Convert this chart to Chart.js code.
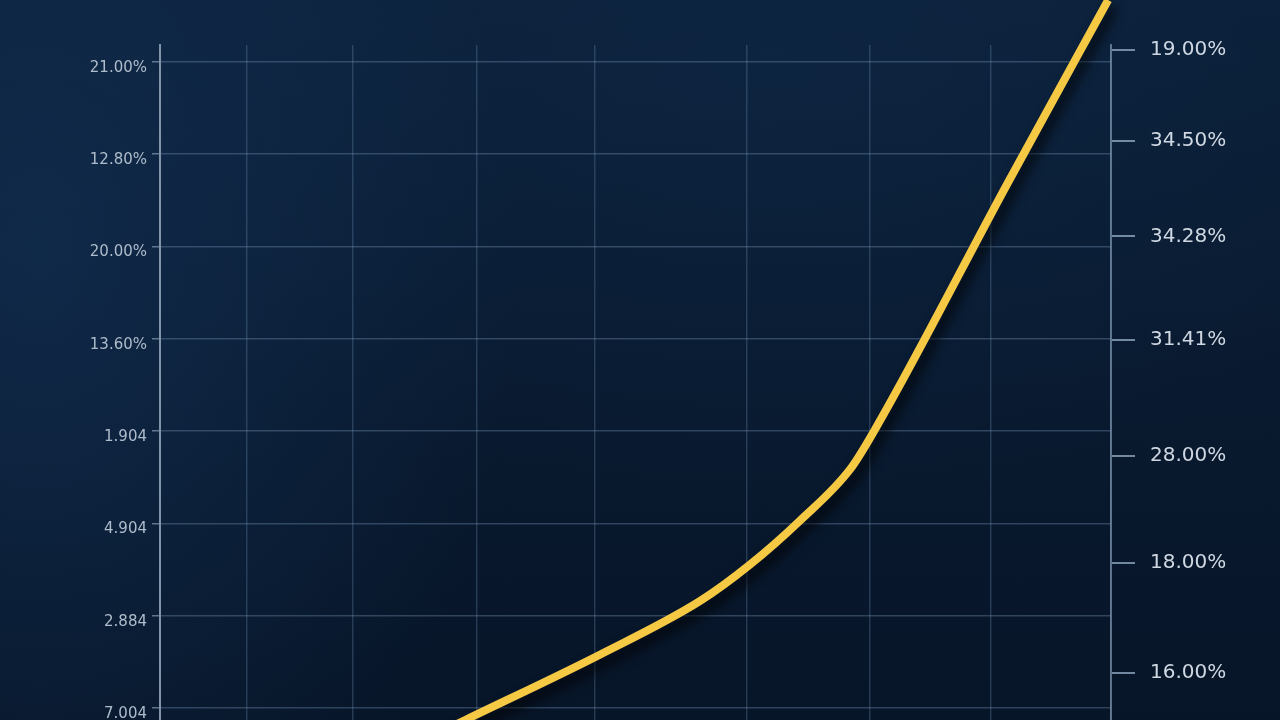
<!DOCTYPE html>
<html>
<head>
<meta charset="utf-8">
<script src="https://cdn.jsdelivr.net/npm/chart.js@4.4.1/dist/chart.umd.min.js"></script>
<style>
  html, body { margin: 0; padding: 0; width: 1280px; height: 720px; overflow: hidden; }
  body {
    background:
      radial-gradient(ellipse 480px 700px at 3% 35%, rgba(22,55,95,0.5) 0%, rgba(22,55,95,0) 100%),
      radial-gradient(ellipse 700px 450px at 60% 8%, rgba(18,45,80,0.35) 0%, rgba(18,45,80,0) 100%),
      linear-gradient(180deg, #0b2039 0%, #091a30 50%, #071528 100%);
  }
  #wrap { position: absolute; left: 0; top: 0; width: 1280px; height: 720px; }
</style>
</head>
<body>
<div id="wrap"><canvas id="c" width="1280" height="720"></canvas></div>
<script>
// ---- data ----
const xValues = [27.3, 32.1, 46.3, 56.8, 62.0, 67.3, 72.6, 75.2, 89.1, 99.7];
const yValues = [-0.37, -0.13, 0.58, 1.16, 1.55, 2.03, 2.59, 3.02, 5.68, 7.67];

const leftTickValues = [0, 1, 2, 3, 4, 5, 6, 7];
const leftLabels = ["7.004", "2.884", "4.904", "1.904", "13.60%", "20.00%", "12.80%", "21.00%"];

const rightTickValues = [0.38, 1.57, 2.73, 3.99, 5.11, 6.14, 7.13];
const rightLabels = ["16.00%", "18.00%", "28.00%", "31.41%", "34.28%", "34.50%", "19.00%"];

const xGridTicks = [0, 9.1, 20.3, 33.3, 45.7, 61.7, 74.6, 87.4, 100];

const points = xValues.map((x, i) => ({ x: x, y: yValues[i] }));

const shadowPlugin = {
  id: 'lineShadow',
  beforeDatasetDraw(chart) {
    const ctx = chart.ctx;
    ctx.save();
    ctx.shadowColor = 'rgba(0,0,0,0.8)';
    ctx.shadowBlur = 12;
    ctx.shadowOffsetX = 5;
    ctx.shadowOffsetY = 7;
  },
  afterDatasetDraw(chart) {
    chart.ctx.restore();
  }
};

const noPad = (s) => { s.paddingTop = 0; s.paddingBottom = 0; s.paddingLeft = 0; s.paddingRight = 0; };

new Chart(document.getElementById('c'), {
  type: 'line',
  data: {
    datasets: [{
      data: points,
      borderColor: '#f6c945',
      borderWidth: 8,
      pointRadius: 0,
      fill: false,
      cubicInterpolationMode: 'monotone',
      clip: false,
      yAxisID: 'y'
    }]
  },
  options: {
    responsive: false,
    animation: false,
    devicePixelRatio: 1,
    layout: { padding: { top: 45, left: 0, right: 0, bottom: 0 } },
    plugins: { legend: { display: false }, tooltip: { enabled: false } },
    scales: {
      x: {
        type: 'linear',
        min: 0, max: 100,
        afterBuildTicks: (s) => { s.ticks = xGridTicks.map(v => ({ value: v })); },
        afterFit: (s) => { s.height = 0; noPad(s); },
        ticks: { display: false },
        border: { display: false },
        grid: { color: 'rgba(120,155,190,0.28)', lineWidth: 1.5, drawTicks: false }
      },
      y: {
        type: 'linear',
        position: 'left',
        min: -0.13, max: 7.183,
        afterBuildTicks: (s) => { s.ticks = leftTickValues.map(v => ({ value: v })); },
        afterFit: (s) => { s.width = 160; noPad(s); },
        ticks: {
          callback: (v, i) => leftLabels[i],
          color: '#aebccb',
          font: { family: 'DejaVu Sans', size: 15 },
          padding: 5,
          labelOffset: 6
        },
        border: { display: true, color: '#8194a9', width: 2 },
        grid: { color: 'rgba(130,160,195,0.33)', lineWidth: 1.5, tickLength: 8, tickColor: 'rgba(150,175,200,0.6)' }
      },
      y2: {
        type: 'linear',
        position: 'right',
        min: -0.13, max: 7.183,
        afterBuildTicks: (s) => { s.ticks = rightTickValues.map(v => ({ value: v })); },
        afterFit: (s) => { s.width = 169; noPad(s); },
        ticks: {
          callback: (v, i) => rightLabels[i],
          color: '#cfd8e2',
          font: { family: 'DejaVu Sans', size: 20 },
          padding: 15
        },
        border: { display: true, color: 'rgba(140,165,190,0.6)', width: 2 },
        grid: { drawOnChartArea: false, tickLength: 24, color: 'rgba(160,185,210,0.7)', lineWidth: 2 }
      }
    }
  },
  plugins: [shadowPlugin]
});
</script>
</body>
</html>
